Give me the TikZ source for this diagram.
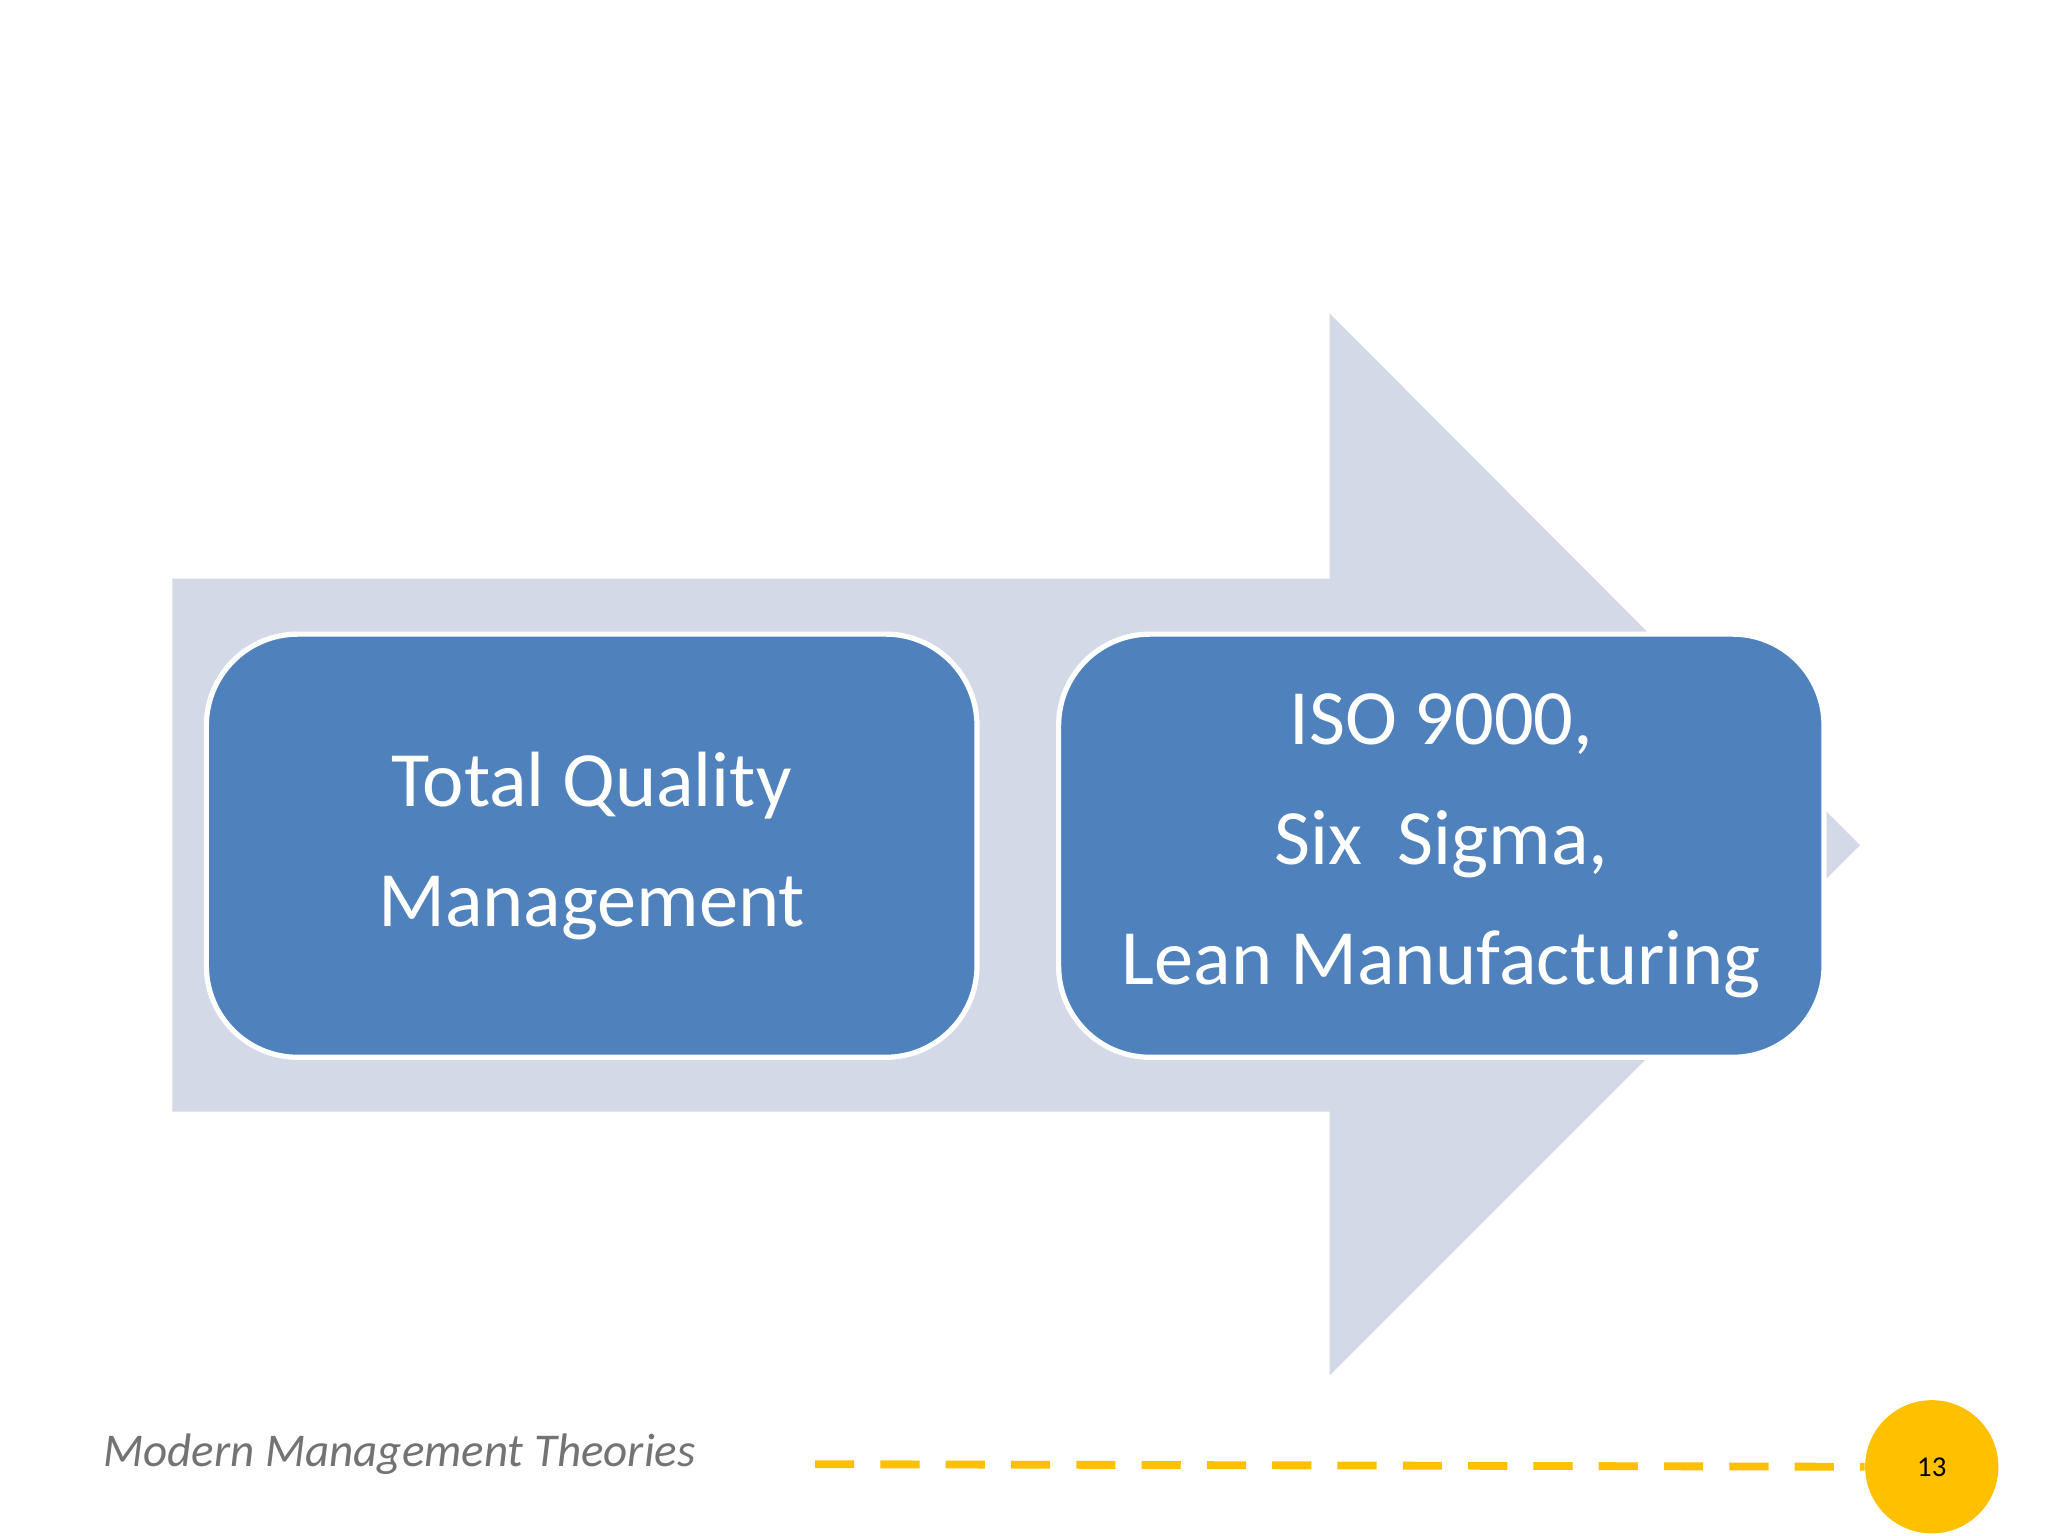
\documentclass[tikz,border=0pt]{standalone}
\usepackage{fontspec}
\setmainfont{Carlito}
\definecolor{arr}{HTML}{D4D9E8}
\definecolor{boxb}{HTML}{4F81BD}
\definecolor{gold}{HTML}{FFC000}
\tikzset{qbox/.style={draw=white,line width=2pt,fill=boxb,rounded corners=35pt,text=white,align=center,font=\fontsize{30}{46}\selectfont}}
\begin{document}
\begin{tikzpicture}[x=0.5pt,y=-0.5pt]
\useasboundingbox[fill=white] (0,0) rectangle (1568,1176);
\fill[arr] (132,443) -- (1018,443) -- (1018,240) -- (1424,647) -- (1018,1053) -- (1018,851) -- (132,851) -- cycle;
\node[qbox,minimum width=295pt,minimum height=162pt] (tqm) at (453,647.5) {Total Quality\\Management};
\node[qbox,minimum width=293pt,minimum height=162pt] (iso) at (1103.5,647.5) {ISO 9000,\\Six\ \ Sigma,\\Lean Manufacturing};
\node[anchor=west,text=gray!90!black,font=\fontsize{18}{20}\selectfont\itshape] (ft) at (72,1113) {Modern Management Theories};
\coordinate (ds) at (624,1121);
\node[circle,fill=gold,minimum size=51pt,inner sep=0pt,font=\fontsize{11}{12}\selectfont] (pg) at (1479,1123) {13};
\draw[gold,line width=3pt,dash pattern=on 15pt off 10pt] (ds) -- (pg.west);
\end{tikzpicture}
\end{document}
